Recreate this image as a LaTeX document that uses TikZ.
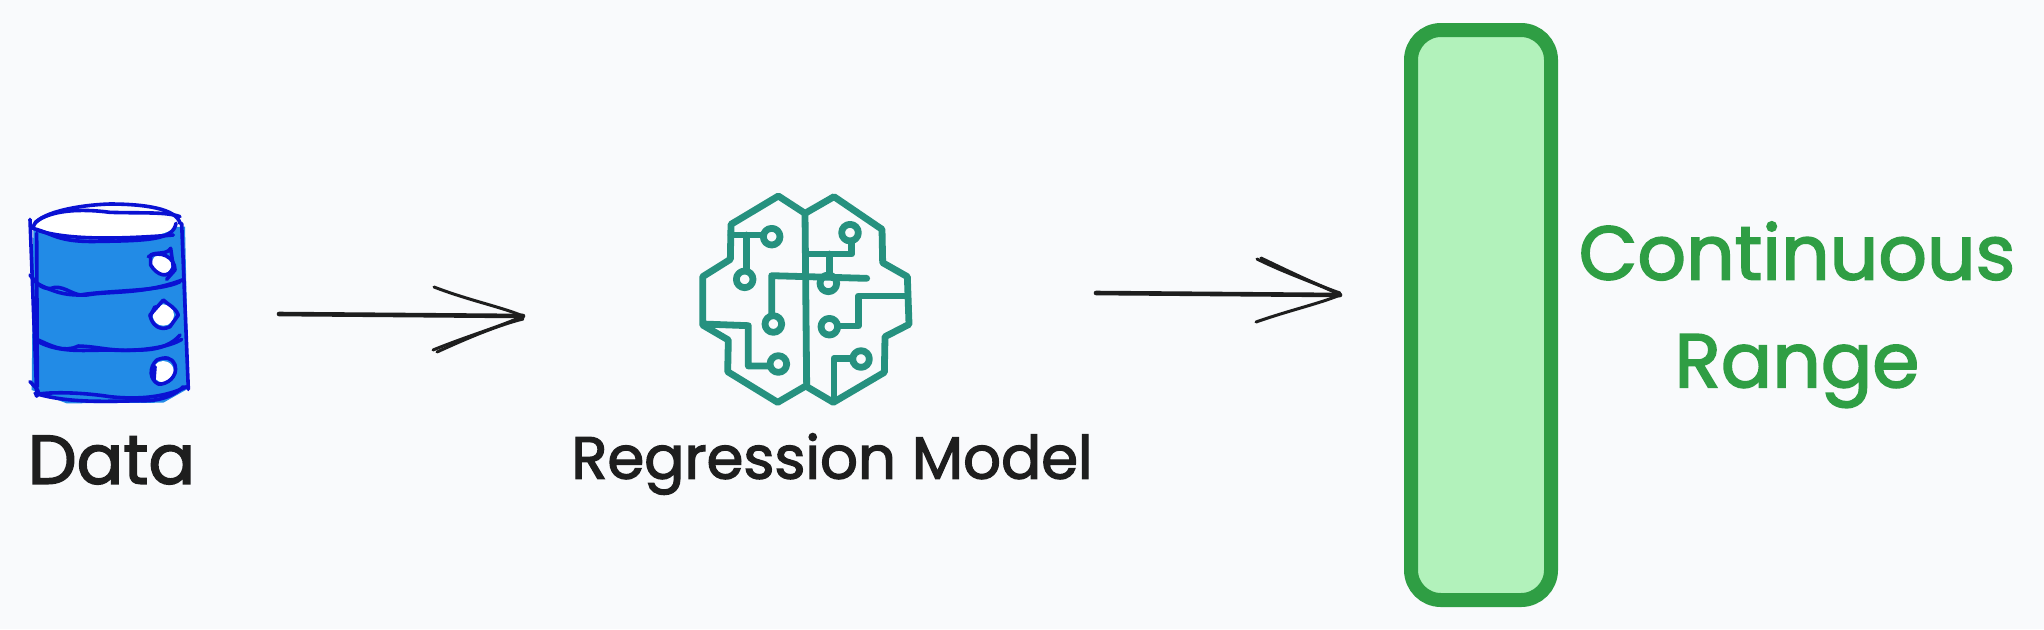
\documentclass[tikz,border=0pt]{standalone}
\usepackage{fontspec}
\setmainfont[RawFeature={embolden=2.2}]{Poppins}
\usetikzlibrary{calc}
\definecolor{bgc}{HTML}{F9FAFC}
\definecolor{inkc}{HTML}{1E1E1E}
\definecolor{dbfill}{HTML}{228BE6}
\definecolor{dbline}{HTML}{0A11D3}
\definecolor{teal}{HTML}{26917F}
\definecolor{grn}{HTML}{2F9E44}
\definecolor{grnfill}{HTML}{B2F2BB}
\tikzset{
  sketch/.style={draw=dbline,line width=1.8pt,line cap=round,line join=round},
  hole/.style={fill=white,draw=none},
  wire/.style={draw=teal,line width=3.4pt,line cap=round,line join=round},
  port/.style={wire,fill=bgc},
  arrowline/.style={draw=inkc,line width=2.3pt,line cap=round},
  headline/.style={draw=inkc,line width=1.5pt,line cap=round},
  caption/.style={inner sep=0pt,text=inkc,align=center},
  rangebar/.style={draw=grn,fill=grnfill,line width=7pt,rounded corners=15pt,inner sep=0pt,minimum width=70pt,minimum height=285pt},
}
\begin{document}
\begin{tikzpicture}[x=0.5pt,y=-0.5pt]
\useasboundingbox (0,0) rectangle (2044,629);
\fill[bgc] (0,0) rectangle (2044,629);
% database
\begin{scope}[shift={(0,180)},x=0.16667pt,y=-0.16667pt]
  \fill[dbfill] (100,150) -- (555,140) -- (566,625) -- (490,668) -- (200,670) -- (95,630) -- cycle;
  \fill[white] (312,137) ellipse [x radius=212, y radius=42];
  \foreach \c/\r in {{(485,252)}/30,{(490,405)}/32,{(490,575)}/32}
    \fill[hole] \c circle (\r);
  \draw[sketch] (100,140) .. controls (110,100) and (230,75) .. (330,72) .. controls (430,72) and (530,85) .. (540,130);
  \draw[sketch] (105,128) .. controls (150,90) and (240,85) .. (330,97) .. controls (430,100) and (500,95) .. (540,110);
  \draw[sketch] (98,145) .. controls (160,160) and (170,188) .. (300,184) .. controls (450,182) and (520,178) .. (528,130);
  \draw[sketch] (110,150) .. controls (200,180) and (350,178) .. (520,165);
  \draw[sketch] (90,118) -- (110,640);
  \draw[sketch] (110,160) -- (112,620);
  \draw[sketch] (545,130) -- (565,628);
  \draw[sketch] (90,285) .. controls (110,310) and (130,335) .. (165,322) .. controls (200,320) and (220,350) .. (260,345) .. controls (330,332) and (430,345) .. (552,298);
  \draw[sketch] (110,310) .. controls (160,335) and (190,345) .. (240,345) .. controls (330,330) and (480,335) .. (540,305);
  \draw[sketch] (110,478) .. controls (150,495) and (190,520) .. (235,498) .. controls (300,500) and (330,515) .. (420,510) .. controls (480,510) and (520,490) .. (540,465);
  \draw[sketch] (115,485) .. controls (180,520) and (260,510) .. (330,510) .. controls (430,515) and (510,500) .. (545,478);
  \draw[sketch] (90,605) .. controls (110,625) and (125,640) .. (110,648) .. controls (90,640) and (200,630) .. (330,650) .. controls (420,660) and (500,650) .. (560,620);
  \draw[sketch] (105,640) .. controls (200,668) and (300,665) .. (420,662) .. controls (490,665) and (530,640) .. (550,620);
  \draw[sketch] (452,225) .. controls (470,215) and (500,225) .. (512,205) -- (520,262) .. controls (505,300) and (470,285) .. (452,255) -- cycle;
  \draw[sketch] (445,230) .. controls (480,210) and (525,230) .. (525,270) -- (500,298);
  \draw[sketch] (490,360) -- (450,405) .. controls (455,435) and (480,455) .. (510,440) -- (535,405) .. controls (525,380) and (505,375) .. (490,360);
  \draw[sketch] (465,380) -- (450,410);
  \draw[sketch] (470,540) .. controls (495,530) and (515,530) .. (525,555) .. controls (535,590) and (500,615) .. (475,612) .. controls (450,600) and (445,565) .. (470,540);
  \draw[sketch] (465,560) -- (462,600);
\end{scope}
\node[caption,font=\fontsize{34.5}{36}\selectfont] (data) at (111.5,460) {Data};
% connectors
\coordinate (a1s) at (279,314);
\coordinate (a1e) at (523,316);
\coordinate (a1u) at (434,287);
\coordinate (a1d) at (433,350);
\draw[arrowline] (a1s) -- (a1e);
\draw[headline] (a1u) .. controls ($(a1u)!.4!(a1e)+(0,2)$) and ($(a1u)!.75!(a1e)+(0,-2)$) .. (a1e);
\draw[headline] (a1d) .. controls ($(a1d)!.4!(a1e)+(0,-1)$) and ($(a1d)!.75!(a1e)+(0,2)$) .. (a1e);
\draw[headline] ($(a1d)+(4,2)$) .. controls ($(a1d)!.4!(a1e)+(2,0)$) and ($(a1d)!.75!(a1e)+(0,0)$) .. ($(a1e)+(0,3)$);
% brain
\begin{scope}[shift={(670,180)},x=0.16667pt,y=-0.16667pt]
  \draw[wire] (405,100) -- (325,48) -- (183,133) -- (181,238) -- (98,290) -- (98,435) -- (175,480) -- (173,575) -- (323,667) -- (407,618) -- (490,667) -- (643,577) -- (645,470) -- (717,433) -- (712,290) -- (638,248) -- (636,148) -- (492,50) -- cycle;
  \draw[wire] (405,100) -- (410,618);
  \draw[wire] (183,165) -- (280,165);
  \draw[wire] (230,165) -- (230,270);
  \draw[wire] (415,222) -- (545,222) -- (545,185);
  \draw[wire] (478,222) -- (478,290);
  \draw[port] (475,310) circle (25);
  \draw[wire] (590,295) -- (305,287) -- (305,405);
  \draw[wire] (707,348) -- (565,348) -- (565,438) -- (505,438);
  \draw[wire] (100,432) -- (235,437) -- (235,558) -- (300,558);
  \draw[wire] (492,660) -- (492,535) -- (550,535);
  \foreach \c in {(305,170),(224,298),(310,432),(540,158),(478,440),(325,552),(573,537)}
    \draw[port] \c circle (25);
\end{scope}
\node[caption,font=\fontsize{29.7}{31}\selectfont] (model) at (832,464) {Regression Model};
\coordinate (a2s) at (1096,293);
\coordinate (a2e) at (1340,295);
\coordinate (a2u) at (1257,259);
\coordinate (a2d) at (1256,322);
\draw[arrowline] (a2s) -- (a2e);
\draw[headline] (a2u) .. controls ($(a2u)!.4!(a2e)+(0,2)$) and ($(a2u)!.75!(a2e)+(0,-2)$) .. (a2e);
\draw[headline] (a2d) .. controls ($(a2d)!.4!(a2e)+(0,-1)$) and ($(a2d)!.75!(a2e)+(0,2)$) .. (a2e);
\draw[headline] ($(a2u)+(4,-1)$) .. controls ($(a2u)!.4!(a2e)+(3,0)$) and ($(a2u)!.75!(a2e)+(0,0)$) .. ($(a2e)+(0,-2)$);
% range
\node[rangebar] (bar) at (1481,315) {};
\node[caption,text=grn,font=\fontsize{38}{40}\selectfont] (cont) at (1797,251) {Continuous};
\node[caption,text=grn,font=\fontsize{38}{40}\selectfont] (rng) at (1797,371) {Range};
\end{tikzpicture}
\end{document}
